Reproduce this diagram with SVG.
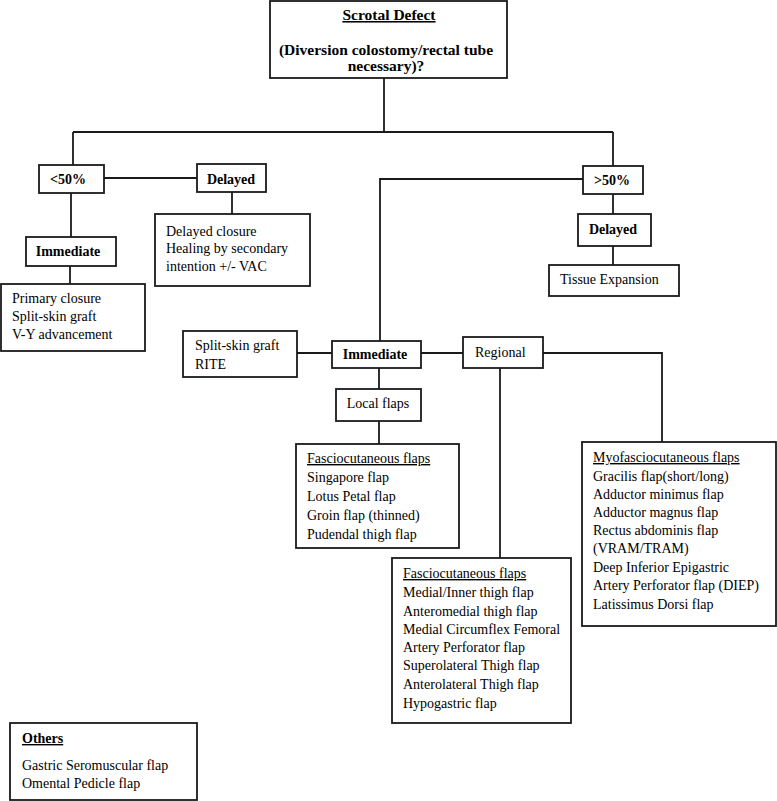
<svg xmlns="http://www.w3.org/2000/svg" width="777" height="801" viewBox="0 0 777 801">
<style>
rect{fill:#fff;stroke:#1a1a1a;stroke-width:1.8}
.c line,.c polyline{fill:none;stroke:#1a1a1a;stroke-width:1.8}
text{font-family:"Liberation Serif","Times New Roman",serif;font-size:14px;fill:#000}
.b{font-weight:bold}
.m{text-anchor:middle}
.u{text-decoration:underline}
</style>
<rect x="0" y="0" width="777" height="801" style="fill:#fff;stroke:none"/>
<g class="c" id="connectors">
<line x1="384" y1="78" x2="384" y2="132"/>
<line x1="73" y1="132" x2="613" y2="132"/>
<line x1="73" y1="132" x2="73" y2="165"/>
<line x1="613" y1="132" x2="613" y2="166"/>
<line x1="104" y1="178" x2="197" y2="178"/>
<line x1="232" y1="192" x2="232" y2="214"/>
<line x1="71" y1="193" x2="71" y2="237"/>
<line x1="70" y1="266" x2="70" y2="284"/>
<polyline points="583,179 380,179 380,341"/>
<line x1="613" y1="194" x2="613" y2="214"/>
<line x1="613" y1="246" x2="613" y2="265"/>
<line x1="297" y1="353" x2="332" y2="353"/>
<line x1="421" y1="353" x2="463" y2="353"/>
<line x1="379" y1="368" x2="379" y2="389"/>
<line x1="379" y1="421" x2="379" y2="444"/>
<line x1="500" y1="368" x2="500" y2="558"/>
<polyline points="543,353 662,353 662,442"/>
</g>
<g id="scrotal-defect">
<rect x="270" y="1" width="237" height="77"/>
<text class="b m u" x="389" y="20" style="font-size:15.5px">Scrotal Defect</text>
<text class="b m" x="386" y="55" style="font-size:15.5px">(Diversion colostomy/rectal tube</text>
<text class="b m" x="386" y="71" style="font-size:15.5px">necessary)?</text>
</g>
<g id="lt50">
<rect x="39" y="165" width="65" height="28"/>
<text class="b m" x="68" y="184">&lt;50%</text>
</g>
<g id="delayed-left">
<rect x="197" y="164" width="69" height="28"/>
<text class="b m" x="231" y="184">Delayed</text>
</g>
<g id="delayed-closure">
<rect x="155" y="214" width="155" height="72"/>
<text x="166" y="236">Delayed closure</text>
<text x="166" y="253">Healing by secondary</text>
<text x="166" y="271">intention +/- VAC</text>
</g>
<g id="immediate-left">
<rect x="26" y="237" width="90" height="29"/>
<text class="b m" x="68" y="256">Immediate</text>
</g>
<g id="primary">
<rect x="1" y="284" width="144" height="67"/>
<text x="12" y="303">Primary closure</text>
<text x="12" y="321">Split-skin graft</text>
<text x="12" y="339">V-Y advancement</text>
</g>
<g id="gt50">
<rect x="583" y="166" width="60" height="28"/>
<text class="b m" x="612" y="185">&gt;50%</text>
</g>
<g id="delayed-right">
<rect x="578" y="214" width="73" height="32"/>
<text class="b m" x="613" y="234">Delayed</text>
</g>
<g id="tissue-expansion">
<rect x="549" y="265" width="130" height="31"/>
<text x="560" y="284">Tissue Expansion</text>
</g>
<g id="split-skin-rite">
<rect x="183" y="331" width="114" height="46"/>
<text x="195" y="350">Split-skin graft</text>
<text x="195" y="369">RITE</text>
</g>
<g id="immediate-mid">
<rect x="332" y="341" width="89" height="27"/>
<text class="b m" x="375" y="359">Immediate</text>
</g>
<g id="regional">
<rect x="463" y="337" width="80" height="31"/>
<text x="475" y="357">Regional</text>
</g>
<g id="local-flaps">
<rect x="336" y="389" width="85" height="32"/>
<text class="m" x="378" y="408">Local flaps</text>
</g>
<g id="fascio-local">
<rect x="296" y="444" width="163" height="104"/>
<text class="u" x="307" y="463">Fasciocutaneous flaps</text>
<text x="307" y="482">Singapore flap</text>
<text x="307" y="501">Lotus Petal flap</text>
<text x="307" y="520">Groin flap (thinned)</text>
<text x="307" y="539">Pudendal thigh flap</text>
</g>
<g id="fascio-regional">
<rect x="392" y="558" width="179" height="165"/>
<text class="u" x="403" y="578">Fasciocutaneous flaps</text>
<text x="403" y="597">Medial/Inner thigh flap</text>
<text x="403" y="616">Anteromedial thigh flap</text>
<text x="403" y="634">Medial Circumflex Femoral</text>
<text x="403" y="652">Artery Perforator flap</text>
<text x="403" y="670">Superolateral Thigh flap</text>
<text x="403" y="689">Anterolateral Thigh flap</text>
<text x="403" y="708">Hypogastric flap</text>
</g>
<g id="myo">
<rect x="582" y="442" width="194" height="184"/>
<text class="u" x="593" y="462">Myofasciocutaneous flaps</text>
<text x="593" y="481">Gracilis flap(short/long)</text>
<text x="593" y="499">Adductor minimus flap</text>
<text x="593" y="517">Adductor magnus flap</text>
<text x="593" y="535">Rectus abdominis flap</text>
<text x="593" y="553">(VRAM/TRAM)</text>
<text x="593" y="572">Deep Inferior Epigastric</text>
<text x="593" y="590">Artery Perforator flap (DIEP)</text>
<text x="593" y="609">Latissimus Dorsi flap</text>
</g>
<g id="others">
<rect x="10" y="723" width="187" height="77"/>
<text class="b u" x="22" y="743">Others</text>
<text x="22" y="770">Gastric Seromuscular flap</text>
<text x="22" y="788">Omental Pedicle flap</text>
</g>
</svg>
